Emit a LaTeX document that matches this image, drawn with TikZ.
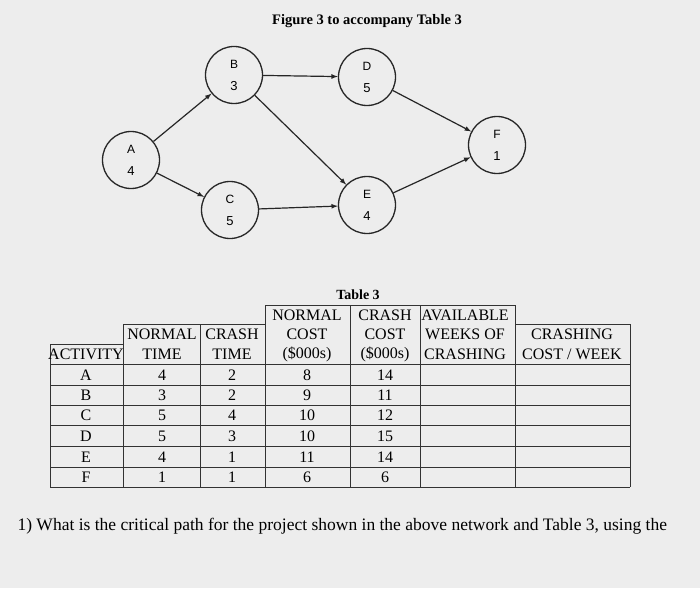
\documentclass[tikz,border=0pt]{standalone}
\usepackage{fontspec}
\setmainfont{Liberation Serif}
\newfontfamily\sans{Liberation Sans}
\begin{document}
\begin{tikzpicture}[x=1pt,y=-1pt,
 act/.style={circle,draw=black!85,line width=1.3pt,minimum size=57pt,inner sep=0pt},
 arr/.style={-latex,line width=1.2pt,black!85},
 tl/.style={line width=0.6pt,black!80},
 cell/.style={font=\fontsize{16}{16}\selectfont,anchor=center}]
\fill[black!7] (0,0) rectangle (700,588);
\useasboundingbox (0,0) rectangle (700,588);
\node[font=\bfseries\fontsize{14.5}{14.5}\selectfont] (title) at (367,21) {Figure 3 to accompany Table 3};
\foreach \n/\x/\y/\d in {A/131/160/4,B/234/75/3,C/230/210/5,D/367/77/5,E/367/205/4,F/497/145/1}{
 \node[act] (\n) at (\x,\y) {};
 \node[font=\sans\fontsize{12}{12}\selectfont] (\n l) at (\x,\y-11) {\n};
 \node[font=\sans\fontsize{13}{13}\selectfont] (\n d) at (\x,\y+11) {\d};
}
\draw[arr] (A) -- (B); \draw[arr] (A) -- (C);
\draw[arr] (B) -- (D); \draw[arr] (B) -- (E);
\draw[arr] (C) -- (E); \draw[arr] (D) -- (F); \draw[arr] (E) -- (F);
\node[font=\bfseries\fontsize{14}{14}\selectfont] (t3) at (358,295) {Table 3};
\draw[tl] (265,305) -- (515,305);
\draw[tl] (123,324) -- (265,324);
\draw[tl] (515,324) -- (630,324);
\draw[tl] (50,344) -- (123,344);
\draw[tl] (50,364) -- (630,364);
\foreach \y in {385,405,425,446,467,487} \draw[tl] (50,\y) -- (630,\y);
\draw[tl] (50,344) -- (50,487);
\draw[tl] (123,324) -- (123,487);
\draw[tl] (200,324) -- (200,487);
\draw[tl] (265,305) -- (265,487);
\draw[tl] (350,305) -- (350,487);
\draw[tl] (420,305) -- (420,487);
\draw[tl] (515,305) -- (515,487);
\draw[tl] (630,324) -- (630,487);
\node[cell] (h1) at (86,354) {ACTIVITY};
\node[cell] (h2) at (162,334) {NORMAL};
\node[cell] (h3) at (162,354) {TIME};
\node[cell] (h4) at (232,334) {CRASH};
\node[cell] (h5) at (232,354) {TIME};
\node[cell] (h6) at (307,315) {NORMAL};
\node[cell] (h7) at (307,334) {COST};
\node[cell] (h8) at (307,354) {(\$000s)};
\node[cell] (h9) at (385,315) {CRASH};
\node[cell] (h10) at (385,334) {COST};
\node[cell] (h11) at (385,354) {(\$000s)};
\node[cell] (h12) at (465,315) {AVAILABLE};
\node[cell] (h13) at (465,334) {WEEKS OF};
\node[cell] (h14) at (465,354) {CRASHING};
\node[cell] (h15) at (572,334) {CRASHING};
\node[cell] (h16) at (572,354) {COST / WEEK};
\foreach \a/\n/\c/\nc/\cc/\y in {A/4/2/8/14/375,B/3/2/9/11/395,C/5/4/10/12/415,D/5/3/10/15/436,E/4/1/11/14/457,F/1/1/6/6/477}{
 \node[cell] (r\a) at (86,\y) {\a};
 \node[cell] (r\a n) at (162,\y) {\n};
 \node[cell] (r\a c) at (232,\y) {\c};
 \node[cell] (r\a nc) at (307,\y) {\nc};
 \node[cell] (r\a cc) at (385,\y) {\cc};
}
\node[font=\fontsize{17.5}{17.5}\selectfont,anchor=west] (q) at (14,526) {1) What is the critical path for the project shown in the above network and Table 3, using the};
\end{tikzpicture}
\end{document}
